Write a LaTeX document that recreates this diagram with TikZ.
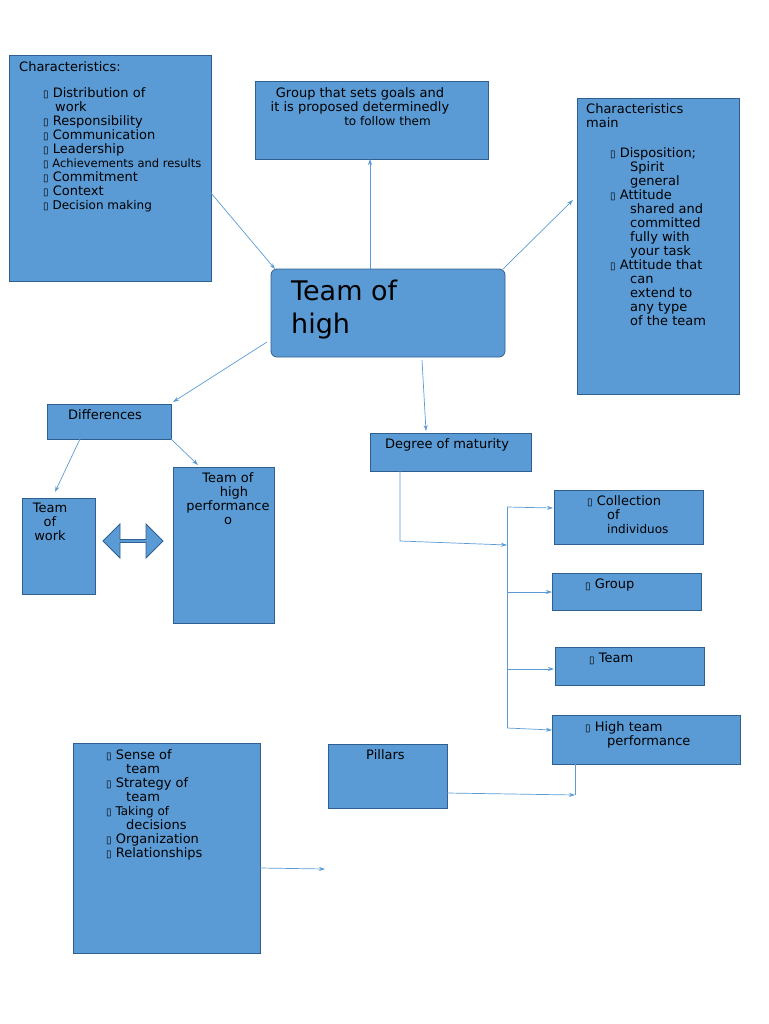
\documentclass[tikz,border=0pt]{standalone}
\usepackage{fontspec}
\setmainfont{DejaVu Sans}
\usetikzlibrary{arrows.meta,shapes.arrows}
\definecolor{bfill}{HTML}{5B9BD5}
\definecolor{bdraw}{HTML}{2F5F8F}
\definecolor{lnk}{HTML}{5B9BD5}
\newcommand{\bx}{\raisebox{-0.5pt}{\fontsize{10}{10}\selectfont ▯}\ }
\begin{document}
\begin{tikzpicture}[x=1pt,y=-1pt,
 box/.style={draw=bdraw,fill=bfill,line width=0.8pt},
 txt/.style={anchor=north west,align=left,inner sep=0,font=\fontsize{13}{17}\selectfont},
 con/.style={draw=lnk,line width=0.7pt,-{Stealth[length=6pt,width=4pt]}},
 ln/.style={draw=lnk,line width=0.7pt}]
\useasboundingbox (0,0) rectangle (768,1024);
% boxes
\draw[box] (9,55) rectangle (211,281);
\draw[box] (255,81) rectangle (488,159);
\draw[box] (577,98) rectangle (739,394);
\draw[box,rounded corners=6pt] (271,269) rectangle (505,357);
\draw[box] (47,404) rectangle (171,439);
\draw[box] (370,433) rectangle (531,471);
\draw[box] (22,498) rectangle (95,594);
\draw[box] (173,467) rectangle (274,623);
\draw[box] (554,490) rectangle (703,544);
\draw[box] (552,573) rectangle (701,610);
\draw[box] (555,647) rectangle (704,685);
\draw[box] (552,715) rectangle (740,764);
\draw[box] (73,743) rectangle (260,953);
\draw[box] (328,744) rectangle (447,808);
% double arrow
\node[double arrow,draw=bdraw,fill=bfill,line width=0.8pt,minimum width=34pt,double arrow head extend=4pt,minimum height=60pt,inner sep=0] (da) at (133,541) {};
% texts
\node[txt] (t1) at (19,61) {Characteristics:};
\node[txt] (t1b) at (43,87) {\bx Distribution of\\[-3pt]\hspace*{12pt}work\\[-3pt]\bx Responsibility\\[-3pt]\bx Communication\\[-3pt]\bx Leadership\\[-3pt]{\fontsize{11.5}{17}\selectfont\bx Achievements and results}\\[-3pt]\bx Commitment\\[-3pt]\bx Context\\[-3pt]{\fontsize{12}{17}\selectfont\bx Decision making}};
\node[txt,align=center,anchor=north] (t2) at (360,87) {Group that sets goals and\\[-3pt]it is proposed determinedly\\[-3pt]\hspace*{55pt}{\fontsize{12}{15}\selectfont to follow them}};
\node[txt] (t3) at (586,103) {Characteristics\\[-3pt]main};
\node[txt] (t3b) at (610,147) {\bx Disposition;\\[-3pt]\hspace*{20pt}Spirit\\[-3pt]\hspace*{20pt}general\\[-3pt]\bx Attitude\\[-3pt]\hspace*{20pt}shared and\\[-3pt]\hspace*{20pt}committed\\[-3pt]\hspace*{20pt}fully with\\[-3pt]\hspace*{20pt}your task\\[-3pt]\bx Attitude that\\[-3pt]\hspace*{20pt}can\\[-3pt]\hspace*{20pt}extend to\\[-3pt]\hspace*{20pt}any type\\[-3pt]\hspace*{20pt}of the team};
\node[txt,font=\fontsize{27}{33}\selectfont] (tc) at (291,280) {Team of\\high};
\node[txt] (td) at (68,409) {Differences};
\node[txt] (tg) at (385,438) {Degree of maturity};
\node[txt,align=center,anchor=north] (tw) at (50,503) {Team\\[-3pt]of\\[-3pt]work};
\node[txt,align=center,anchor=north] (th) at (228,472) {Team of\\[-3pt]\hspace*{12pt}high\\[-3pt]performance\\[-3pt]o};
\begin{scope}
\clip (554,490) rectangle (703,540);
\node[txt] (tcol) at (587,495) {\bx Collection\\[-3pt]\hspace*{20pt}of\\[-3pt]\hspace*{20pt}{\fontsize{12}{17}\selectfont individuos}};
\end{scope}
\node[txt] (tgr) at (585,579) {\bx Group};
\node[txt] (ttm) at (589,653) {\bx Team};
\node[txt] (tht) at (585,721) {\bx High team\\[-3pt]\hspace*{22pt}performance};
\node[txt] (tse) at (106,749) {\bx Sense of\\[-3pt]\hspace*{20pt}team\\[-3pt]\bx Strategy of\\[-3pt]\hspace*{20pt}team\\[-3pt]{\fontsize{12}{17}\selectfont\bx Taking of}\\[-3pt]\hspace*{20pt}decisions\\[-3pt]\bx Organization\\[-3pt]\bx Relationships};
\node[txt] (tp) at (366,749) {Pillars};
% connectors
\coordinate (a1) at (211,193); \coordinate (b1) at (275,269);
\draw[con] (a1) -- (b1);
\coordinate (a2) at (370,269); \coordinate (b2) at (370,159);
\draw[con] (a2) -- (b2);
\coordinate (a3) at (503,269); \coordinate (b3) at (573,200);
\draw[con] (a3) -- (b3);
\coordinate (a4) at (267,342); \coordinate (b4) at (173,402);
\draw[con] (a4) -- (b4);
\coordinate (a5) at (422,360); \coordinate (b5) at (426,431);
\draw[con] (a5) -- (b5);
\coordinate (a6) at (80,439); \coordinate (b6) at (55,492);
\draw[con] (a6) -- (b6);
\coordinate (a7) at (171,439); \coordinate (b7) at (198,465);
\draw[con] (a7) -- (b7);
\coordinate (a8) at (400,471); \coordinate (m8) at (400,541); \coordinate (b8) at (507,545);
\draw[con] (a8) -- (m8) -- (b8);
\coordinate (v1) at (507,507); \coordinate (v2) at (507,728);
\draw[ln] (v1) -- (v2);
\coordinate (c1) at (553,508); \coordinate (c2) at (552,592); \coordinate (c3) at (554,669); \coordinate (c4) at (552,730);
\coordinate (v3) at (507,592); \coordinate (v4) at (507,669);
\draw[con] (v1) -- (c1);
\draw[con] (v3) -- (c2);
\draw[con] (v4) -- (c3);
\draw[con] (v2) -- (c4);
\coordinate (p1) at (447,793); \coordinate (p2) at (575,795); \coordinate (p3) at (575,764);
\draw[con] (p1) -- (p2);
\draw[ln] (p2) -- (p3);
\coordinate (s1) at (260,868); \coordinate (s2) at (325,869);
\draw[con] (s1) -- (s2);
\end{tikzpicture}
\end{document}
